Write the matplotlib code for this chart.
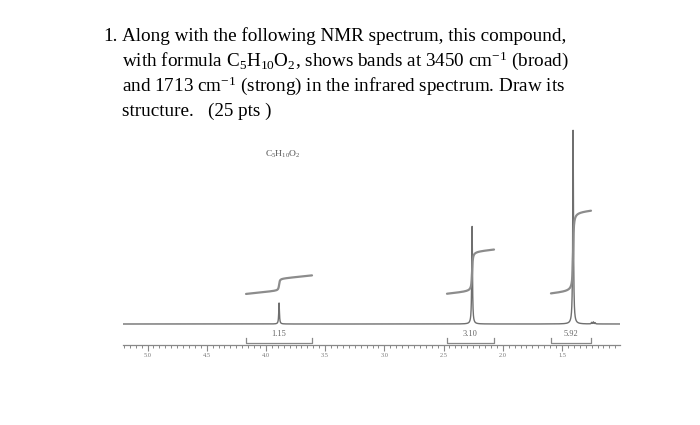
import numpy as np
import matplotlib
matplotlib.use("Agg")
import matplotlib.pyplot as plt

plt.rcParams['font.family'] = ['Liberation Serif', 'DejaVu Serif']
plt.rcParams['mathtext.fontset'] = 'custom'
plt.rcParams['mathtext.rm'] = 'Liberation Serif'
plt.rcParams['mathtext.it'] = 'Liberation Serif:italic'
plt.rcParams['mathtext.bf'] = 'Liberation Serif:bold'

# ---- data ----
question_lines = [
    "with formula C$_5$H$_{10}$O$_2$, shows bands at 3450 cm$^{-1}$ (broad)",
    "and 1713 cm$^{-1}$ (strong) in the infrared spectrum. Draw its",
    "structure.   (25 pts )",
]
question_first = "Along with the following NMR spectrum, this compound,"
question_number = "1."
formula_label = "C$_5$H$_{10}$O$_2$"

peak_ppm = [3.889, 2.259, 1.406]
peak_height = [21, 98, 194]
minor_ppm = [1.25, 1.235, 1.22]
minor_height = [1.5, 2.0, 1.2]

integral_start = [4.168, 2.471, 1.593]
integral_end = [3.611, 2.074, 1.255]
integral_step = [12, 40, 80]
integral_labels = ["1.15", "3.10", "5.92"]

xlim_ppm = (5.207, 1.01)
tick_labels = ["5.0", "4.5", "4.0", "3.5", "3.0", "2.5", "2.0", "1.5"]

# ---- figure ----
fig = plt.figure(figsize=(7, 4.25), dpi=100)
W, H = 700, 425

def fx(px):
    return px / W

def fy(py):
    return 1 - py / H

# question text
fs = 13.8
fig.text(fx(103), fy(41), question_number, fontsize=fs, va='baseline', ha='left')
fig.text(fx(122), fy(41), question_first, fontsize=fs, va='baseline', ha='left')
for i, line in enumerate(question_lines):
    fig.text(fx(122), fy(41 + 25 * (i + 1)), line, fontsize=fs, va='baseline', ha='left')

# spectrum axes: 1 y-unit = 1 px
ax = fig.add_axes([fx(123), fy(360), (620 - 123) / W, (360 - 115) / H])
ax.set_xlim(*xlim_ppm)
ax.set_ylim(-36, 209)
ax.axis('off')

x = np.linspace(xlim_ppm[0], xlim_ppm[1], 8000)
gamma = 0.0035
spec = np.zeros_like(x)
for p, h in zip(peak_ppm, peak_height):
    spec += h / (1 + ((x - p) / gamma) ** 2)
for p, h in zip(minor_ppm, minor_height):
    spec += h / (1 + ((x - p) / 0.003) ** 2)
ax.plot(x, spec, color='#6f6f6f', lw=1.0, solid_joinstyle='round')

# integration curves
base_off = 30
slope = 12  # per ppm
for s, e, p, hstep in zip(integral_start, integral_end, peak_ppm, integral_step):
    xi = np.linspace(s, e, 300)
    yi = base_off + slope * (s - xi) + hstep * (0.5 + np.arctan((p - xi) / 0.0045) / np.pi)
    ax.plot(xi, yi, color='#8c8c8c', lw=1.6, solid_capstyle='round')

# formula label
ax.text(3.86, 170, formula_label, fontsize=6.8, color='#555555', ha='center', va='center')

# integration brackets and labels
for s, e, lab in zip(integral_start, integral_end, integral_labels):
    ax.plot([s, s, e, e], [-14, -19, -19, -14], color='#888888', lw=0.9)
    ax.text((s + e) / 2, -10, lab, fontsize=6, color='#666666', ha='center', va='center')

# ruler axes
rax = fig.add_axes([fx(123), fy(345), (620 - 123) / W, 0.0001])
rax.set_xlim(*xlim_ppm)
for sp in ['top', 'left', 'right']:
    rax.spines[sp].set_visible(False)
rax.spines['bottom'].set_color('#888888')
rax.spines['bottom'].set_linewidth(0.9)
rax.set_yticks([])
major = np.arange(5.0, 1.49, -0.5)
rax.set_xticks(major)
rax.set_xticklabels(tick_labels)
rax.set_xticks(np.arange(5.2, 1.0, -0.05), minor=True)
rax.tick_params(axis='x', which='major', length=4, width=0.8, color='#888888',
                labelsize=4.6, labelcolor='#777777', pad=2)
rax.tick_params(axis='x', which='minor', length=2.5, width=0.7, color='#888888')

fig.savefig("out.png", dpi=100)
